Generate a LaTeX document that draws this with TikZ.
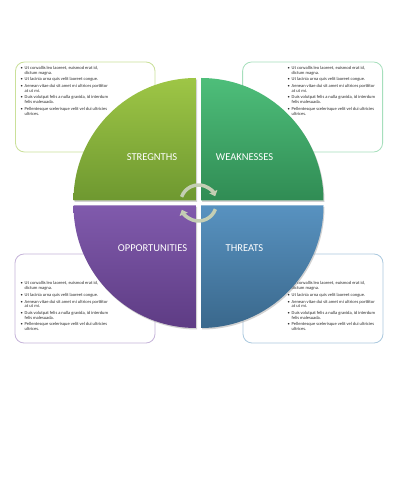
\documentclass[tikz,border=0pt]{standalone}
\usepackage{fontspec}
\setmainfont{Carlito}
\usepackage{xcolor}
\definecolor{swotGreenTop}{RGB}{158,198,70}
\definecolor{swotGreenBot}{RGB}{110,152,48}
\definecolor{swotMintTop}{RGB}{78,190,122}
\definecolor{swotMintBot}{RGB}{48,140,84}
\definecolor{swotPurpleTop}{RGB}{128,90,172}
\definecolor{swotPurpleBot}{RGB}{94,60,132}
\definecolor{swotBlueTop}{RGB}{88,146,192}
\definecolor{swotBlueBot}{RGB}{58,104,140}
\definecolor{swotText}{RGB}{45,45,45}
\definecolor{swotArrow}{RGB}{196,206,180}
\colorlet{strength-edge}{swotGreenTop!55!white}
\colorlet{weakness-edge}{swotMintTop!50!white}
\colorlet{chance-edge}{swotPurpleTop!45!white}
\colorlet{threat-edge}{swotBlueTop!50!white}
\usetikzlibrary{arrows.meta,shadows}
\newcommand{\spot}[2]{\coordinate (#1) at (#2);}
\newcommand{\loremlist}{%
  \fontsize{4.5}{4.7}\selectfont
  \begin{tabular}{@{}l@{\hspace{1.8pt}}l@{}}
    \textbullet & Ut convallis leo laoreet, euismod erat id,\\
                & dictum magna.\\[2pt]
    \textbullet & Ut lacinia urna quis velit laoreet congue.\\[2pt]
    \textbullet & Aenean vitae dui sit amet mi ultrices porttitor\\
                & at ut mi.\\[2pt]
    \textbullet & Duis volutpat felis a nulla gravida, id interdum\\
                & felis malesuada.\\[2pt]
    \textbullet & Pellentesque scelerisque velit vel dui ultricies\\
                & ultrices.
  \end{tabular}}

\begin{document}
\begin{tikzpicture}[x=1pt,y=1pt,
    infobox/.style={draw,rounded corners=9pt,line width=0.8pt,fill=white,
      minimum width=140pt,minimum height=90pt,inner sep=0pt},
    infotext/.style={anchor=north west,inner sep=0pt,text=swotText},
    quarter/.style={drop shadow={shadow xshift=1pt,shadow yshift=-1.5pt,opacity=.35}},
    quartlabel/.style={text=white,font=\fontsize{10.5}{12}\selectfont},
    cyclearrow/.style={line width=3.5pt,draw=swotArrow,
      -{Triangle[width=8.5pt,length=5pt]}}]
  \fill[white] (0,0) rectangle (400,501);
  \useasboundingbox (0,0) rectangle (400,501);
  % centre of the circle
  \spot{c}{198.5,298}
  \spot{tl}{196,300.5}
  \spot{tr}{201,300.5}
  \spot{bl}{196,295.5}
  \spot{br}{201,295.5}
  % text boxes behind the circle
  \node[infobox,draw=strength-edge,minimum width=139.5pt] (tl-box) at (85.25,394) {};
  \node[infobox,draw=weakness-edge] (tr-box) at (312.6,394) {};
  \node[infobox,draw=chance-edge,minimum height=89pt] (bl-box) at (85,202.5) {};
  \node[infobox,draw=threat-edge,minimum height=89pt] (br-box) at (313,202.5) {};
  \node[infotext] (tl-text) at (20.5,435) {\loremlist};
  \node[infotext] (tr-text) at (287.5,435) {\loremlist};
  \node[infotext] (bl-text) at (20.5,219.5) {\loremlist};
  \node[infotext] (br-text) at (287.5,219.5) {\loremlist};
  % the four quarters
  \path[quarter,top color=swotGreenTop,bottom color=swotGreenBot]
    (tl) -- ++(0,122.5) arc[start angle=90,end angle=180,radius=122.5] -- cycle;
  \path[quarter,top color=swotMintTop,bottom color=swotMintBot]
    (tr) -- ++(122.5,0) arc[start angle=0,end angle=90,radius=122.5] -- cycle;
  \path[quarter,top color=swotPurpleTop,bottom color=swotPurpleBot]
    (bl) -- ++(-122.5,0) arc[start angle=180,end angle=270,radius=122.5] -- cycle;
  \path[quarter,top color=swotBlueTop,bottom color=swotBlueBot]
    (br) -- ++(0,-122.5) arc[start angle=270,end angle=360,radius=122.5] -- cycle;
  \node[quartlabel] (strengths) at (152,344) {STREGNTHS};
  \node[quartlabel] (weaknesses) at (244.5,344) {WEAKNESSES};
  \node[quartlabel] (opportunities) at (152.5,253) {OPPORTUNITIES};
  \node[quartlabel] (threats) at (244.5,253) {THREATS};
  % cycle arrows
  \draw[cyclearrow] ([shift={(160:18)}]c) arc[start angle=160,end angle=22,radius=18];
  \draw[cyclearrow] ([shift={(-20:18)}]c) arc[start angle=-20,end angle=-158,radius=18];
\end{tikzpicture}
\end{document}
